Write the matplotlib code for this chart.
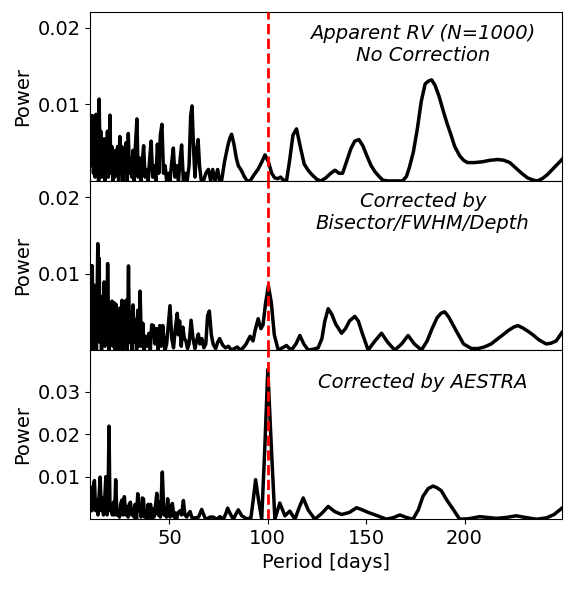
import numpy as np
import matplotlib
matplotlib.use('Agg')
import matplotlib.pyplot as plt

# periodogram: (period [days], power)
p_raw = [10.0, 10.5, 11.0, 11.4, 11.8, 12.2, 12.7, 13.1, 13.6, 14.0, 14.3, 14.7, 15.1, 15.5, 15.9,
         16.3, 16.8, 17.2, 17.7, 18.1, 18.5, 18.9, 19.4, 19.8, 20.2, 20.7, 21.2, 21.7, 22.2, 22.7,
         23.2, 23.7, 24.2, 24.8, 25.3, 25.8, 26.3, 26.9, 27.4, 28.0, 28.6, 29.1, 29.7, 30.3, 30.9,
         31.5, 32.1, 32.7, 33.5, 34.1, 34.8, 35.5, 36.2, 36.9, 37.6, 38.4, 39.2, 40.0, 40.7, 41.5,
         42.3, 43.1, 43.9, 44.6, 45.4, 46.2, 47.0, 47.8, 48.6, 49.5, 50.3, 51.2, 52.0, 52.8, 53.7,
         54.6, 55.5, 56.2, 57.1, 58.0, 59.0, 60.0, 60.8, 61.5, 62.3, 63.0, 63.8, 64.6, 65.3, 66.2,
         67.3, 68.5, 69.8, 71.0, 72.0, 73.2, 74.5, 75.5, 76.5, 78.0, 79.6, 80.6, 81.6, 82.8, 84.0,
         85.0, 86.5, 88.0, 89.5, 91.0, 93.0, 95.0, 97.0, 98.6, 100.3, 102.0, 103.5, 105.0, 106.5,
         108.0, 109.5, 111.0, 112.8, 114.6, 116.5, 118.5, 120.5, 122.5, 125.0, 127.0, 129.5, 132.0,
         134.2, 136.2, 138.0, 140.0, 142.2, 144.2, 146.3, 148.3, 150.5, 152.5, 154.5, 156.5, 158.5,
         161.0, 165.0, 168.5, 170.5, 172.0, 174.0, 176.0, 178.0, 180.0, 182.0, 183.3, 185.0, 187.0,
         189.0, 191.0, 193.0, 195.0, 197.5, 199.5, 201.5, 205.0, 209.0, 213.0, 217.0, 220.0, 223.0,
         226.0, 229.0, 232.0, 235.0, 237.0, 239.5, 242.0, 245.0, 249.5]
pow_raw = [0.0085, 0.002, 0.0085, 0.001, 0.006, 0.0005, 0.0087, 0.002, 0.0075, 0.0, 0.0107, 0.003,
           0.0065, 0.0005, 0.0045, 0.001, 0.0055, 0.0, 0.004, 0.001, 0.0065, 0.0005, 0.0035, 0.0086,
           0.001, 0.0045, 0.0, 0.003, 0.0005, 0.004, 0.001, 0.0045, 0.0, 0.0058, 0.001, 0.0045, 0.0,
           0.0035, 0.001, 0.005, 0.0, 0.0062, 0.001, 0.003, 0.0005, 0.004, 0.0, 0.0045, 0.0081,
           0.0005, 0.003, 0.0, 0.0025, 0.0046, 0.0005, 0.0015, 0.0, 0.003, 0.0052, 0.0005, 0.002, 0.0,
           0.0048, 0.001, 0.006, 0.0074, 0.001, 0.002, 0.0, 0.001, 0.0, 0.0025, 0.0043, 0.0005, 0.002,
           0.0, 0.003, 0.0047, 0.0, 0.001, 0.0, 0.002, 0.0085, 0.0098, 0.004, 0.0005, 0.004, 0.0054,
           0.002, 0.0, 0.0, 0.001, 0.0015, 0.0, 0.0015, 0.0, 0.0015, 0.0, 0.0, 0.0025, 0.0045, 0.0055,
           0.0061, 0.0048, 0.003, 0.002, 0.0014, 0.0006, 0.0, 0.0, 0.0008, 0.0015, 0.0025, 0.0034,
           0.0025, 0.001, 0.0004, 0.0003, 0.0005, 0.0001, 0.0, 0.0025, 0.006, 0.0068, 0.0045, 0.0022,
           0.0014, 0.0008, 0.0002, 0.0, 0.0004, 0.001, 0.0014, 0.001, 0.001, 0.0025, 0.0042, 0.0052,
           0.0054, 0.0046, 0.0032, 0.002, 0.0012, 0.0006, 0.0001, 0.0, 0.0, 0.0, 0.0006, 0.0018,
           0.0038, 0.0068, 0.0104, 0.0127, 0.0131, 0.0132, 0.0125, 0.0111, 0.0093, 0.0076, 0.0061,
           0.0045, 0.0033, 0.0027, 0.0024, 0.0024, 0.0025, 0.0027, 0.0028, 0.0027, 0.0024, 0.0017,
           0.001, 0.0004, 0.0001, 0.0, 0.0003, 0.0008, 0.0016, 0.0028]

p_bis = [10.0, 10.4, 10.8, 11.2, 11.6, 12.0, 12.5, 12.9, 13.6, 14.0, 14.3, 14.7, 15.1, 15.5, 15.9,
         16.3, 16.8, 17.2, 17.7, 18.1, 18.6, 19.3, 19.8, 20.3, 20.8, 21.3, 21.8, 22.3, 22.8, 23.3,
         23.8, 24.3, 24.8, 25.3, 25.9, 26.4, 27.0, 27.5, 28.0, 28.6, 29.2, 29.7, 30.3, 30.9, 31.5,
         32.1, 32.7, 33.3, 33.9, 34.5, 35.1, 35.8, 36.5, 37.2, 38.0, 38.8, 39.6, 40.3, 41.0, 41.9,
         42.7, 43.5, 44.3, 45.1, 45.9, 46.6, 47.1, 47.8, 48.6, 49.5, 50.3, 51.2, 52.1, 53.0, 54.0,
         54.5, 55.2, 56.0, 56.8, 57.6, 58.4, 59.2, 60.0, 61.0, 62.0, 63.0, 63.8, 64.7, 65.5, 66.5,
         67.5, 68.5, 69.4, 70.3, 71.3, 72.3, 73.5, 74.5, 75.5, 77.2, 78.5, 80.0, 81.5, 83.0, 84.5,
         86.0, 87.5, 89.0, 91.0, 92.5, 93.5, 95.1, 96.5, 97.6, 98.8, 100.3, 101.8, 103.3, 105.3,
         107.5, 109.5, 111.0, 112.3, 114.3, 116.3, 118.3, 120.5, 123.0, 125.6, 127.5, 129.0, 130.7,
         132.5, 134.5, 137.5, 139.5, 141.5, 144.2, 146.0, 148.0, 151.0, 154.5, 157.8, 161.0, 164.5,
         168.0, 171.3, 174.5, 178.1, 181.0, 183.5, 186.0, 188.0, 189.9, 192.0, 195.8, 199.5, 203.5,
         207.0, 210.0, 213.5, 216.5, 219.5, 222.5, 225.0, 227.1, 229.5, 232.0, 234.7, 238.0, 241.5,
         244.0, 246.6, 249.5]
pow_bis = [0.011, 0.002, 0.011, 0.0, 0.0085, 0.001, 0.0065, 0.0, 0.0139, 0.002, 0.012, 0.001,
           0.0046, 0.0, 0.007, 0.001, 0.0089, 0.0005, 0.0075, 0.001, 0.0113, 0.0, 0.004, 0.001,
           0.0064, 0.0005, 0.0062, 0.0, 0.006, 0.001, 0.0045, 0.0, 0.0055, 0.001, 0.0065, 0.0,
           0.0045, 0.0005, 0.0065, 0.0, 0.011, 0.001, 0.005, 0.0, 0.0059, 0.001, 0.004, 0.0, 0.0052,
           0.0005, 0.0077, 0.0005, 0.0035, 0.0, 0.0018, 0.0005, 0.0022, 0.0, 0.0033, 0.0032, 0.0008,
           0.0028, 0.0, 0.0032, 0.0005, 0.0032, 0.0018, 0.0, 0.0008, 0.0035, 0.0058, 0.0015, 0.0003,
           0.0028, 0.0048, 0.002, 0.0038, 0.0005, 0.003, 0.0015, 0.0012, 0.0002, 0.0008, 0.0039,
           0.0015, 0.0002, 0.0012, 0.0021, 0.0008, 0.0015, 0.0003, 0.0008, 0.0045, 0.0051, 0.002,
           0.0007, 0.0002, 0.001, 0.0015, 0.0006, 0.0003, 0.0005, 0.0, 0.0002, 0.0004, 0.0, 0.0003,
           0.0008, 0.0018, 0.0012, 0.0025, 0.0041, 0.0028, 0.0033, 0.006, 0.0084, 0.0062, 0.002, 0.0,
           0.0003, 0.0006, 0.0002, 0.0001, 0.0008, 0.0019, 0.0008, 0.0, 0.0001, 0.0003, 0.0015, 0.0038,
           0.0054, 0.0047, 0.0034, 0.0022, 0.0028, 0.0038, 0.0044, 0.0038, 0.0022, 0.0, 0.0012,
           0.0022, 0.001, 0.0, 0.0008, 0.0019, 0.0008, 0.0, 0.0012, 0.0028, 0.0042, 0.0048, 0.005,
           0.0043, 0.0025, 0.0008, 0.0002, 0.0002, 0.0004, 0.0008, 0.0014, 0.002, 0.0026, 0.003,
           0.0032, 0.0029, 0.0025, 0.002, 0.0013, 0.0008, 0.0009, 0.0012, 0.0023]

p_aes = [10.0, 10.6, 11.2, 11.9, 12.5, 13.1, 13.7, 14.3, 14.8, 15.4, 16.0, 16.5, 17.1, 17.7, 18.3,
         18.8, 19.3, 19.8, 20.4, 21.0, 21.6, 22.1, 22.7, 23.3, 24.0, 24.6, 25.2, 25.8, 26.4, 27.1,
         27.8, 28.4, 29.0, 29.6, 30.2, 30.8, 31.4, 32.0, 32.6, 33.3, 33.9, 34.5, 35.1, 35.6, 36.2,
         36.8, 37.4, 38.0, 38.6, 39.2, 39.8, 40.4, 41.0, 41.6, 42.2, 43.0, 43.6, 44.3, 44.8, 45.4,
         46.4, 47.2, 47.8, 48.5, 49.1, 49.8, 50.3, 50.9, 51.5, 52.3, 53.0, 53.6, 54.4, 55.4, 56.2,
         57.1, 57.9, 58.8, 59.6, 60.5, 61.5, 63.0, 64.8, 66.4, 68.0, 69.0, 70.6, 72.3,
         74.0, 75.7, 77.4, 78.6, 79.6, 81.0, 82.5, 83.8, 85.0, 86.8, 89.2, 91.4, 92.6, 93.8, 95.3,
         96.9, 98.5, 100.0, 101.8, 103.6, 106.1, 108.7, 111.2, 113.8, 116.0, 118.0, 120.5, 123.9,
         127.5, 130.7, 134.0, 137.5, 141.5, 145.1, 148.0, 151.0, 155.2, 160.3, 164.0, 167.1, 170.5,
         173.8, 176.5, 178.9, 181.5, 184.0, 186.0, 188.2, 191.0, 194.1, 197.5, 202.0, 207.7, 212.0,
         216.1, 221.0, 226.3, 231.0, 236.5, 241.5, 245.5, 249.5]
pow_aes = [0.0074, 0.002, 0.0075, 0.0091, 0.002, 0.0045, 0.001, 0.006, 0.0099, 0.002, 0.005, 0.001,
           0.0045, 0.01, 0.001, 0.004, 0.0219, 0.002, 0.003, 0.001, 0.004, 0.001, 0.0093, 0.001,
           0.002, 0.0005, 0.0035, 0.0045, 0.001, 0.0053, 0.001, 0.003, 0.0005, 0.0035, 0.004, 0.001,
           0.0025, 0.0005, 0.0035, 0.0, 0.006, 0.002, 0.0035, 0.0005, 0.005, 0.0048, 0.0005, 0.002,
           0.0, 0.0035, 0.0005, 0.0035, 0.0, 0.0025, 0.0005, 0.0035, 0.0061, 0.001, 0.004, 0.0005,
           0.0111, 0.001, 0.002, 0.0005, 0.0048, 0.001, 0.0005, 0.003, 0.0037, 0.0005, 0.0015, 0.0,
           0.0015, 0.002, 0.001, 0.0044, 0.001, 0.0005, 0.0012, 0.0018, 0.0003, 0.0003, 0.0005,
           0.0023, 0.0004, 0.0, 0.0005, 0.0005, 0.0, 0.0006,
           0.0, 0.0012, 0.0026, 0.0012, 0.0, 0.0012, 0.0022, 0.0008, 0.0001, 0.0003, 0.0045, 0.0093,
           0.0045, 0.0, 0.017, 0.0352, 0.017, 0.0, 0.0038, 0.0008, 0.0019, 0.0, 0.0028, 0.005, 0.0022,
           0.0, 0.0014, 0.003, 0.0018, 0.0011, 0.0016, 0.0027, 0.0022, 0.0016, 0.0009, 0.0, 0.0004,
           0.001, 0.0004, 0.0, 0.0022, 0.0054, 0.0072, 0.0078, 0.0074, 0.0067, 0.0045, 0.0024, 0.0,
           0.0001, 0.0006, 0.0004, 0.0002, 0.0004, 0.0008, 0.0004, 0.0, 0.0003, 0.0011, 0.0026]

labels = ['Apparent RV (N=1000)\nNo Correction',
          'Corrected by\nBisector/FWHM/Depth',
          'Corrected by AESTRA']
yticks = [[0.01, 0.02], [0.01, 0.02], [0.01, 0.02, 0.03]]
ytops = [0.0221, 0.0221, 0.0398]
label_y = [0.93, 0.935, 0.865]

plt.rcParams['font.size'] = 14
fig, axes = plt.subplots(3, 1, figsize=(5.74, 5.90), dpi=100, sharex=True)
fig.subplots_adjust(left=0.157, right=0.979, bottom=0.12, top=0.98, hspace=0)

data = [(p_raw, pow_raw), (p_bis, pow_bis), (p_aes, pow_aes)]
for i, ax in enumerate(axes):
    px, py = data[i]
    ax.plot(px, py, color='k', lw=2.5)
    ax.axvline(100, color='red', ls='--', lw=2, zorder=5)
    ax.set_ylim(0, ytops[i])
    ax.set_yticks(yticks[i])
    ax.set_ylabel('Power')
    ax.text(0.705, label_y[i], labels[i], transform=ax.transAxes, ha='center', va='top',
            style='italic', fontsize=14)

axes[-1].set_xlim(9.7, 249.5)
axes[-1].set_xticks([50, 100, 150, 200])
axes[-1].set_xlabel('Period [days]')

plt.savefig('out.png', dpi=100)
